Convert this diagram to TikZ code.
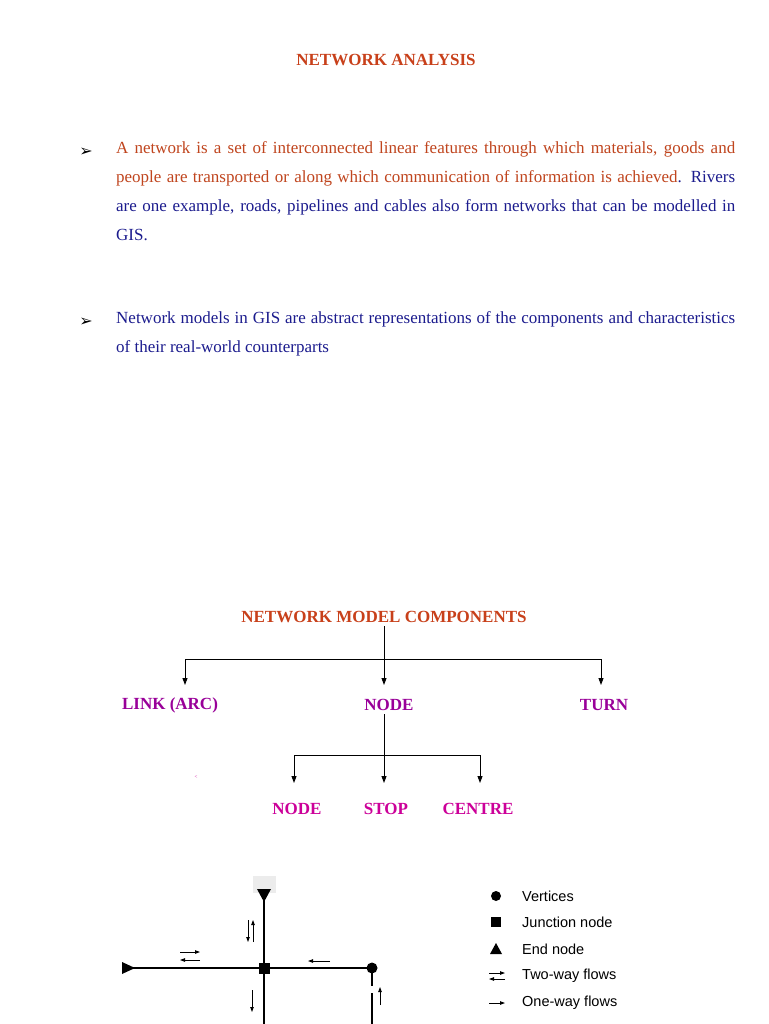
\documentclass[tikz,border=0pt]{standalone}
\usepackage{fontspec}
\setmainfont{Liberation Serif}
\newfontfamily\legfont{Liberation Sans}
\newfontfamily\dejavu{DejaVu Sans}
\usetikzlibrary{arrows.meta}
\definecolor{titlec}{HTML}{C8401A}
\definecolor{orangec}{HTML}{C0451E}
\definecolor{navyc}{HTML}{1C1C8E}
\definecolor{purplec}{HTML}{990099}
\definecolor{magc}{HTML}{CC0099}
\tikzset{
  title/.style={font=\fontsize{17}{20}\selectfont\bfseries, text=titlec},
  para/.style={font=\fontsize{17}{29}\selectfont, text width=619pt, align=justify, anchor=north west, inner sep=0pt},
  bul/.style={font=\dejavu\fontsize{16}{18}\selectfont, inner sep=0pt},
  lvl1/.style={font=\fontsize{17}{20}\selectfont\bfseries, text=purplec},
  lvl2/.style={font=\fontsize{17}{20}\selectfont\bfseries, text=magc},
  tree/.style={line width=0.9pt, -{Triangle[length=7pt,width=5pt]}},
  treel/.style={line width=0.9pt},
  leg/.style={font=\legfont\fontsize{14.5}{16}\selectfont, anchor=west, inner sep=0pt},
  net/.style={line width=1.6pt},
  flow/.style={line width=0.8pt, -{Triangle[length=5pt,width=3.5pt]}}
}
\begin{document}
\begin{tikzpicture}[x=1pt,y=-1pt]
\useasboundingbox[fill=white] (0,0) rectangle (768,1024);
\node[title] (t) at (386,60) {NETWORK ANALYSIS};
\node[bul] (b1) at (86,152) {➢};
\node[para] (p1) at (116,141) {\color{orangec}A network is a set of interconnected linear features through which materials, goods and people are transported or along which communication of information is achieved\color{navyc}. Rivers are one example, roads, pipelines and cables also form networks that can be modelled in GIS.};
\node[bul] (b2) at (86,322) {➢};
\node[para, text=navyc] (p2) at (116,311) {Network models in GIS are abstract representations of the components and characteristics of their real-world counterparts};

\node[title] (nmc) at (384,617) {NETWORK MODEL COMPONENTS};
\node[lvl1] (link) at (170,705) {LINK (ARC)};
\node[lvl1] (node) at (389,705) {NODE};
\node[lvl1] (turn) at (604,705) {TURN};
\node[lvl2] (n2) at (297,809) {NODE};
\node[lvl2] (stop) at (386,809) {STOP};
\node[lvl2] (cen) at (478,809) {CENTRE};
\node[text=magc, font=\tiny] (lt) at (196,777) {<};
\coordinate (h1) at (384,659);
\draw[tree] (nmc.south -| h1) -- (384,685);
\draw[tree] (185,659) -- (185,685);
\draw[treel] (185,659) -- (601,659);
\draw[tree] (601,659) -- (601,685);
\coordinate (h2) at (384,755);
\draw[treel] (node.south -| h2) -- (h2);
\draw[treel] (294,755) -- (480,755);
\draw[tree] (294,755) -- (294,783);
\draw[tree] (384,755) -- (384,783);
\draw[tree] (480,755) -- (480,783);

% network figure
\fill[gray!15] (253,876) rectangle (276,893);
\coordinate (top) at (264,893);
\coordinate (jn) at (264,968);
\coordinate (lf) at (130,968);
\coordinate (vx) at (372,968);
\draw[net] (top) -- (264,1024);
\draw[net] (lf) -- (vx);
\draw[net] (vx) -- (372,986);
\draw[net] (372,993) -- (372,1024);
\fill (122,962) -- (135,968) -- (122,974) -- cycle;
\fill (257,889) -- (271,889) -- (264,902) -- cycle;
\node[fill, minimum size=11pt, inner sep=0pt] (sq) at (jn) {};
\node[fill, circle, minimum size=11pt, inner sep=0pt] (cv) at (vx) {};
\draw[flow] (180,952) -- (200,952);
\draw[flow] (200,960) -- (180,960);
\draw[flow] (248,920) -- (248,942);
\draw[flow] (253,942) -- (253,920);
\draw[flow] (330,961) -- (308,961);
\draw[flow] (252,990) -- (252,1012);
\draw[flow] (380,1005) -- (380,987);

% legend
\node[fill, circle, minimum size=10pt, inner sep=0pt] (l1) at (496,896) {};
\node[leg] (lt1) at (522,896) {Vertices};
\node[fill, minimum size=10pt, inner sep=0pt] (l2) at (496,922) {};
\node[leg] (lt2) at (522,922) {Junction node};
\fill (490,954) -- (502,954) -- (496,943) -- cycle;
\node[leg] (lt3) at (522,949) {End node};
\draw[flow] (489,973) -- (505,973);
\draw[flow] (505,979) -- (489,979);
\node[leg] (lt4) at (522,976) {Two-way flows};
\draw[flow] (489,1003) -- (505,1003);
\node[leg] (lt5) at (522,1003) {One-way flows};
\end{tikzpicture}
\end{document}
